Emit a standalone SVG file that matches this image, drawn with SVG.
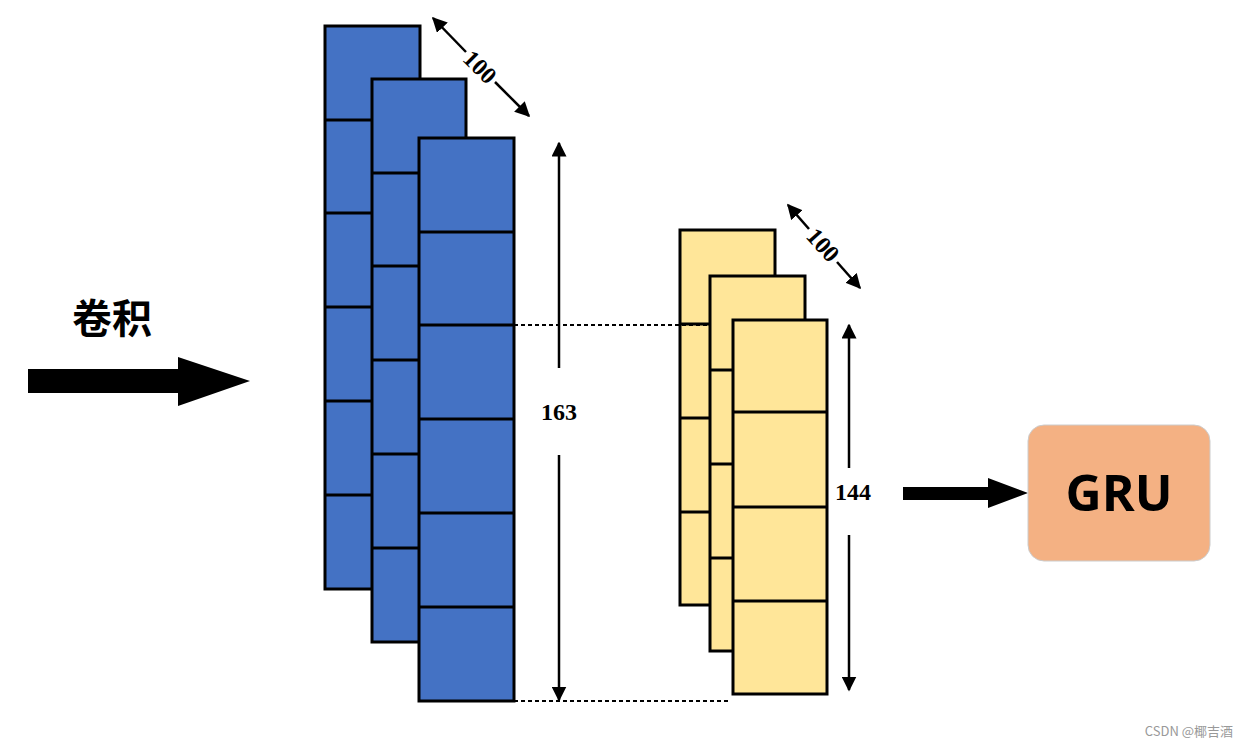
<svg xmlns="http://www.w3.org/2000/svg" width="1249" height="747" viewBox="0 0 1249 747">
<defs>
<style>
.b{fill:#4472C4;stroke:#000;stroke-width:3}
.y{fill:#FFE699;stroke:#000;stroke-width:3}
.l{stroke:#000;stroke-width:3}
.d{stroke:#000;stroke-width:2;stroke-dasharray:4 3}
.a{stroke:#000;stroke-width:2.5;fill:none}
.t{font-family:"Liberation Serif",serif;font-weight:bold;font-size:24px;text-anchor:middle}
</style>
<marker id="ar" viewBox="0 0 10 10" refX="9" refY="5" markerWidth="6" markerHeight="6" orient="auto-start-reverse"><path d="M0,0L10,5L0,10z" fill="#000"/></marker>
</defs>
<rect width="1249" height="747" fill="#fff"/>
<g id="blue-back"><rect class="b" x="325" y="26" width="95" height="563"/><path class="l" d="M325 120H420M325 213H420M325 307H420M325 401H420M325 495H420"/></g>
<g id="blue-mid"><rect class="b" x="372" y="79" width="94" height="563"/><path class="l" d="M372 173H466M372 266H466M372 360H466M372 454H466M372 548H466"/></g>
<g id="blue-front"><rect class="b" x="419" y="138" width="95" height="563"/><path class="l" d="M419 232H514M419 325H514M419 419H514M419 513H514M419 607H514"/></g>
<g id="yellow-back"><rect class="y" x="680" y="230" width="95" height="375"/><path class="l" d="M680 324H710M680 418H710M680 512H710"/></g>
<g id="connectors">
<path class="d" d="M514 325H728M514 701H728"/>
</g>
<g id="yellow-mid"><rect class="y" x="710" y="276" width="95" height="375"/><path class="l" d="M710 370H733M710 464H733M710 558H733"/></g>
<g id="yellow-front"><rect class="y" x="733" y="320" width="94" height="374"/><path class="l" d="M733 412H827M733 507H827M733 601H827"/></g>
<g id="dims">
<path class="a" marker-end="url(#ar)" d="M559 368V143"/>
<path class="a" marker-end="url(#ar)" d="M559 455V700"/>
<text class="t" x="559" y="420">163</text>
<path class="a" marker-end="url(#ar)" d="M849 468V325"/>
<path class="a" marker-end="url(#ar)" d="M849 535V690"/>
<text class="t" x="853" y="500">144</text>
<path class="a" marker-end="url(#ar)" d="M466 52L433 18"/>
<path class="a" marker-end="url(#ar)" d="M495 82L529 116"/>
<text class="t" x="480" y="75" transform="rotate(45 480 67)">100</text>
<path class="a" marker-end="url(#ar)" d="M809 229L788 205"/>
<path class="a" marker-end="url(#ar)" d="M837 262L860 288"/>
<text class="t" x="823" y="253" transform="rotate(48 823 245)">100</text>
</g>
<g id="conv-arrow">
<path d="M28 369H178V357L250 381L178 406V393H28Z" fill="#000"/>
<text x="112" y="333" font-family="'Noto Sans CJK SC',sans-serif" font-weight="bold" font-size="40" text-anchor="middle">卷积</text>
</g>
<g id="gru-arrow"><path d="M903 487H988V478L1028 493L988 508V500H903Z" fill="#000"/></g>
<g id="gru"><rect x="1028" y="425" width="182" height="136" rx="16" fill="#F4B183" stroke="#ccc" stroke-width="1"/>
<text x="1119" y="511" font-family="'Open Sans',sans-serif" font-weight="bold" font-size="50" text-anchor="middle">GRU</text></g>
<text x="1233" y="736" font-family="'Noto Sans CJK SC',sans-serif" font-size="13" fill="#999" text-anchor="end">CSDN @椰吉酒</text>
</svg>
